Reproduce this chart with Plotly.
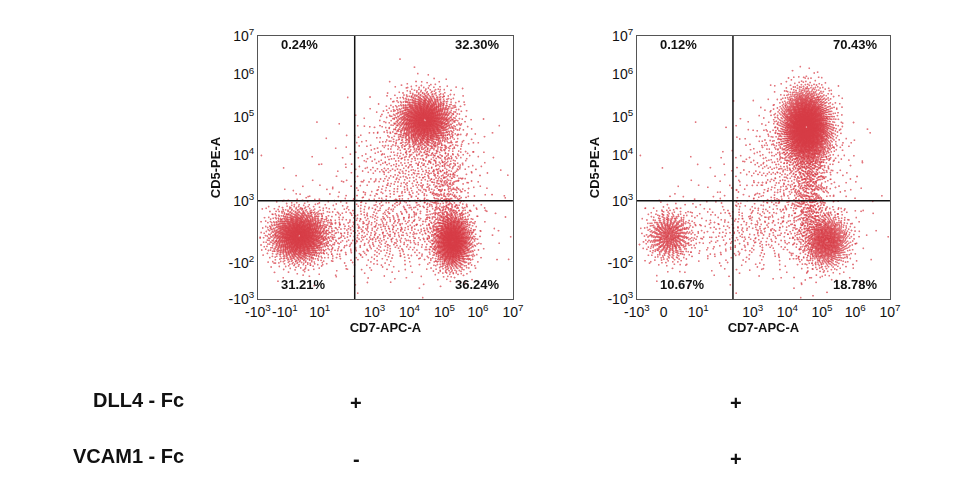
import numpy as np
import plotly.graph_objects as go

# cluster parameters (axis units = decades on display scale)
# [cx, cy, sx, sy, n]
left_clusters = [[1.2, 1.8, 0.42, 0.38, 2000], [4.8, 5.1, 0.42, 0.40, 1900], [5.6, 1.65, 0.28, 0.40, 1600],
                 [3.5, 1.9, 1.3, 0.55, 700], [4.5, 3.8, 0.9, 0.9, 700], [5.4, 3.0, 0.3, 0.9, 400], [4.0, 2.6, 1.8, 1.2, 200]]
right_clusters = [[0.95, 1.8, 0.33, 0.36, 650], [4.9, 4.9, 0.36, 0.52, 3100], [5.5, 1.65, 0.33, 0.38, 1000],
                  [3.4, 1.9, 1.3, 0.55, 450], [4.5, 3.7, 0.8, 0.9, 600], [5.0, 3.0, 0.25, 1.0, 600], [4.0, 2.6, 1.8, 1.2, 150]]
left_pct = ["0.24%", "32.30%", "31.21%", "36.24%"]
right_pct = ["0.12%", "70.43%", "10.67%", "18.78%"]
y_ticks = [0, 1.03, 2.8, 4.1, 5.2, 6.4, 7.5]
y_text = ["-10<sup>3</sup>", "-10<sup>2</sup>", "10<sup>3</sup>", "10<sup>4</sup>", "10<sup>5</sup>", "10<sup>6</sup>", "10<sup>7</sup>"]
x_ticks = [0, 0.77, 1.77, 3.34, 4.34, 5.34, 6.3, 7.3]
x_text_left = ["-10<sup>3</sup>", "-10<sup>1</sup>", "10<sup>1</sup>", "10<sup>3</sup>", "10<sup>4</sup>", "10<sup>5</sup>", "10<sup>6</sup>", "10<sup>7</sup>"]
x_text_right = ["-10<sup>3</sup>", "0", "10<sup>1</sup>", "10<sup>3</sup>", "10<sup>4</sup>", "10<sup>5</sup>", "10<sup>6</sup>", "10<sup>7</sup>"]
gate_x, gate_y = 2.77, 2.8

def pts(clusters):
    xs, ys = [], []
    for j, (cx, cy, sx, sy, n) in enumerate(clusters):
        i = np.arange(n)
        u = ((i * 0.7548776662 + 0.31 * j) % 1.0) * 0.995 + 0.0025
        r = np.sqrt(-2 * np.log(1 - u))
        a = ((i * 0.5698402910 + 0.17 * j) % 1.0) * 2 * np.pi
        xs.append(cx + sx * r * np.cos(a)); ys.append(cy + sy * r * np.sin(a))
    x = np.concatenate(xs); y = np.concatenate(ys)
    keep = (x > 0.03) & (x < 7.27) & (y > 0.03) & (y < 7.47)
    return x[keep], y[keep]

fig = go.Figure()
font = "Liberation Sans"
for k, (cl, pct, xt) in enumerate([(left_clusters, left_pct, x_text_left), (right_clusters, right_pct, x_text_right)]):
    sfx = "" if k == 0 else "2"
    x, y = pts(cl)
    fig.add_trace(go.Scattergl(x=x, y=y, mode="markers", xaxis="x" + sfx, yaxis="y" + sfx,
                               marker=dict(size=2, color="#d63a44", opacity=0.7), showlegend=False, hoverinfo="skip"))
    dom = [0.2612, 0.5276] if k == 0 else [0.6572, 0.9216]
    common = dict(showgrid=False, zeroline=False, showline=True, mirror=True, linecolor="#555", linewidth=1,
                  ticks="", automargin=False, tickfont=dict(size=14, color="#111", family=font))
    fig.layout["xaxis" + sfx] = dict(domain=dom, range=[0, 7.3], tickvals=x_ticks, ticktext=xt, anchor="y" + sfx, tickangle=0,
                                     title=dict(text="<b>CD7-APC-A</b>", font=dict(size=13, family=font, color="#111"), standoff=0), **common)
    fig.layout["yaxis" + sfx] = dict(domain=[0.418, 0.944], range=[0, 7.5], tickvals=y_ticks, ticktext=y_text, anchor="x" + sfx,
                                     title=dict(text="<b>CD5-PE-A</b>", font=dict(size=13, family=font, color="#111"), standoff=4), **common)
    xr, yr = "x" + sfx, "y" + sfx
    fig.add_shape(type="line", xref=xr, yref=yr, x0=gate_x, x1=gate_x, y0=0, y1=7.5, line=dict(color="#111", width=1.5))
    fig.add_shape(type="line", xref=xr, yref=yr, x0=0, x1=7.3, y0=gate_y, y1=gate_y, line=dict(color="#111", width=1.5))
    for txt, xx, yy, anc in zip(pct, [0.6, 7.0, 0.6, 7.0], [7.25, 7.25, 0.4, 0.4], ["left", "right", "left", "right"]):
        fig.add_annotation(xref=xr, yref=yr, x=xx, y=yy, text="<b>%s</b>" % txt, showarrow=False, xanchor=anc,
                           font=dict(size=13, family=font, color="#111"))

labels = ["DLL4 - Fc", "VCAM1 - Fc"]
signs = [["+", "+"], ["-", "+"]]
for r, (lab, sg) in enumerate(zip(labels, signs)):
    yy = 0.19 - r * 0.112
    fig.add_annotation(xref="paper", yref="paper", x=178 / 957, y=yy, text="<b>%s</b>" % lab, showarrow=False,
                       xanchor="right", font=dict(size=20, family=font, color="#111"))
    for s, xp in zip(sg, [348, 736]):
        fig.add_annotation(xref="paper", yref="paper", x=xp / 957, y=yy - 0.005, text="<b>%s</b>" % s, showarrow=False,
                           font=dict(size=20, family=font, color="#111"))

fig.update_layout(width=957, height=500, margin=dict(l=0, r=0, t=0, b=0), plot_bgcolor="white", paper_bgcolor="white")
fig.write_html("out.html")
